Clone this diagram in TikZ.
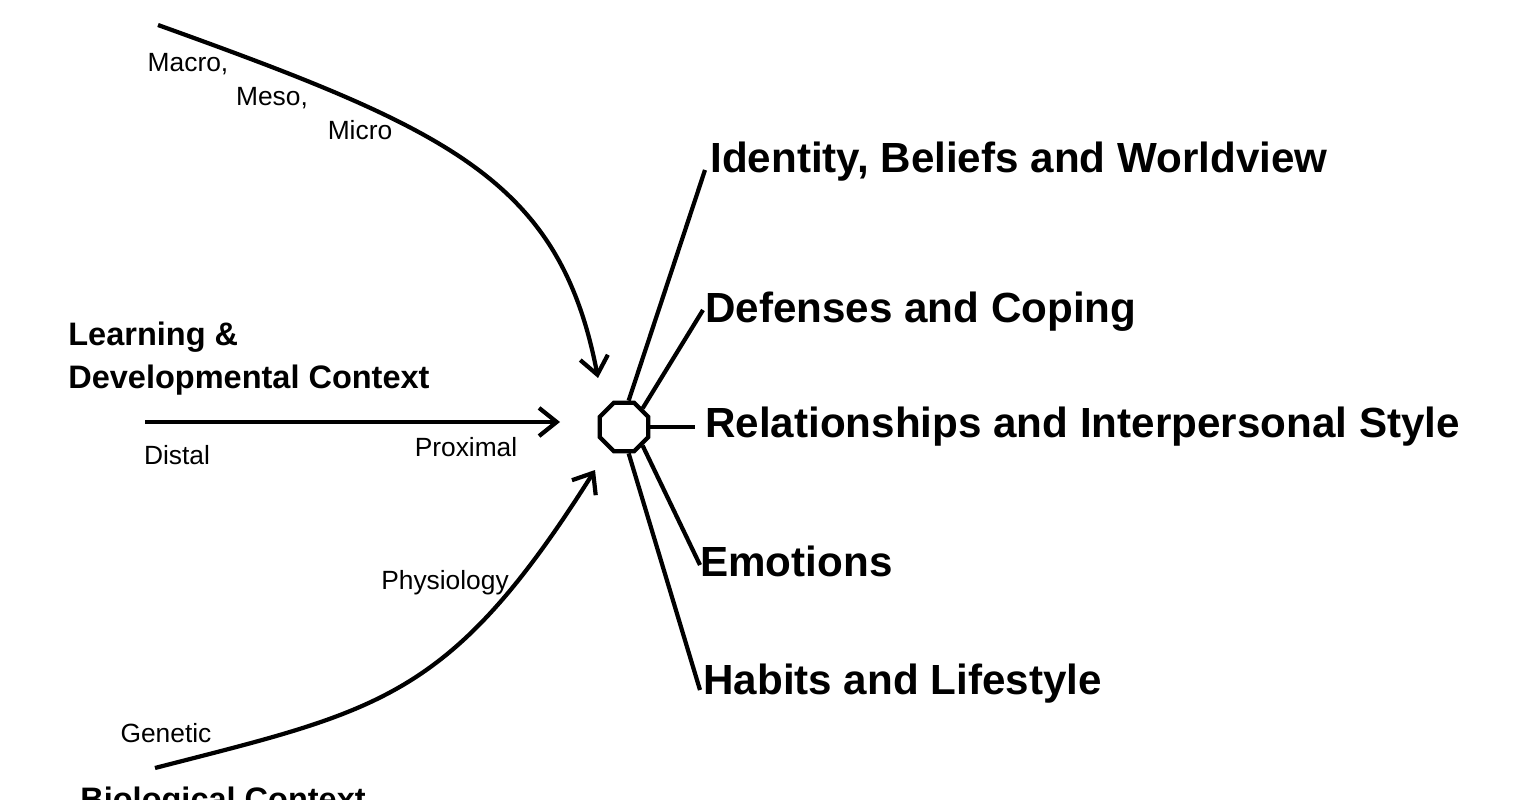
\documentclass[tikz,border=0pt]{standalone}
\usepackage{fontspec}
\setmainfont{Liberation Sans}
\usetikzlibrary{arrows.meta,shapes.geometric}
\begin{document}
\begin{tikzpicture}[x=0.02cm,y=-0.02cm,
  ln/.style={line width=2.4pt,black},
  arr/.style={ln,-{Straight Barb[length=10pt,width=16pt,line width=2.4pt]}},
  big/.style={font=\fontsize{24}{28}\selectfont\bfseries,anchor=west,inner sep=0},
  mid/.style={font=\fontsize{18.5}{22}\selectfont\bfseries,anchor=west,inner sep=0},
  sm/.style={font=\fontsize{15}{18}\selectfont,inner sep=0}]
\useasboundingbox (0,0) rectangle (1528,800);
\clip (0,0) rectangle (1528,800);
\node[draw,line width=2.4pt,regular polygon,regular polygon sides=8,minimum size=1.05cm,inner sep=0] (c) at (624,427) {};
\node[big] (t1) at (710,162) {Identity, Beliefs and Worldview};
\node[big] (t2) at (705,312) {Defenses and Coping};
\node[big] (t3) at (705,427) {Relationships and Interpersonal Style};
\node[big] (t4) at (700,561) {Emotions};
\node[big] (t5) at (703,684) {Habits and Lifestyle};
\coordinate (e1) at (705,170);
\coordinate (e2) at (703,310);
\coordinate (e3) at (695,427);
\coordinate (e4) at (700,565);
\coordinate (e5) at (700,690);
\draw[ln] (c.80) -- (e1);
\draw[ln] (c.45) -- (e2);
\draw[ln] (c.east) -- (e3);
\draw[ln] (c.-45) -- (e4);
\draw[ln] (c.-80) -- (e5);
\coordinate (s1) at (158,25);
\coordinate (s2) at (145,422);
\coordinate (s3) at (155,768);
\draw[arr] (s1) .. controls (450,130) and (560,180) .. (598,378);
\draw[arr] (s2) -- (560,422);
\draw[arr] (s3) .. controls (380,710) and (450,700) .. (595,470);
\node[sm] (m1) at (188,64) {Macro,};
\node[sm] (m2) at (272,98) {Meso,};
\node[sm] (m3) at (360,130) {Micro};
\node[mid] (l1) at (68,337) {Learning \&};
\node[mid] (l2) at (68,380) {Developmental Context};
\node[sm] (d1) at (177,455) {Distal};
\node[sm] (d2) at (466,447) {Proximal};
\node[sm] (p1) at (445,583) {Physiology};
\node[sm] (g1) at (166,733) {Genetic};
\node[mid] (b1) at (80,802) {Biological Context};
\end{tikzpicture}
\end{document}
